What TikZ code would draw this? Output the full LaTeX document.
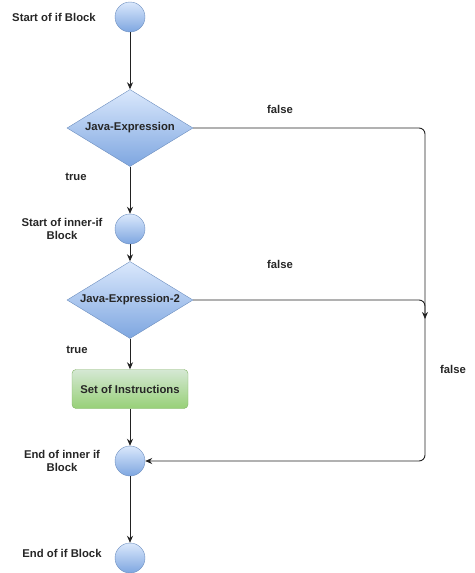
\documentclass[tikz,border=0pt]{standalone}
\usepackage{fontspec}
\setmainfont{Liberation Sans}
\usetikzlibrary{shapes.geometric,arrows.meta}
\definecolor{bluetop}{HTML}{DAE8FC}
\definecolor{bluebot}{HTML}{7EA6E0}
\definecolor{blueline}{HTML}{6C8EBF}
\definecolor{greentop}{HTML}{D5E8D4}
\definecolor{greenbot}{HTML}{97D077}
\definecolor{greenline}{HTML}{82B366}
\definecolor{lineclr}{HTML}{222222}
\tikzset{
  every node/.style={font=\fontsize{11.3}{13}\selectfont\bfseries, text=black!85},
  dot/.style={circle, draw=blueline, top color=bluetop, bottom color=bluebot, minimum size=30pt, inner sep=0pt},
  decide/.style={diamond, draw=blueline, top color=bluetop, bottom color=bluebot, aspect=1.64, minimum width=126pt, minimum height=77pt, inner sep=0pt},
  task/.style={rectangle, rounded corners=4pt, draw=greenline, top color=greentop, bottom color=greenbot, minimum width=116pt, minimum height=39pt, inner sep=0pt},
  flow/.style={draw=lineclr, line width=0.9pt, -{Stealth[length=7pt,width=6pt]}},
  lbl/.style={align=center, inner sep=0pt}
}
\begin{document}
\begin{tikzpicture}[x=1pt,y=1pt]
\useasboundingbox (0,0) rectangle (474,-573);
\node[dot] (s1) at (130,-17) {};
\node[decide] (d1) at (130,-128) {Java-Expression};
\node[dot] (s2) at (130,-229) {};
\node[decide] (d2) at (130,-300) {Java-Expression-2};
\node[task] (t) at (130,-389) {Set of Instructions};
\node[dot] (e1) at (130,-461) {};
\node[dot] (e2) at (130,-558) {};
\coordinate (r1) at (425,-128);
\coordinate (r2) at (425,-461);
\coordinate (m1) at (425,-300);
\coordinate (m2) at (425,-319);

\draw[flow] (s1) -- (d1);
\draw[flow] (d1) -- (s2);
\draw[flow] (s2) -- (d2);
\draw[flow] (d2) -- (t);
\draw[flow] (t) -- (e1);
\draw[flow] (e1) -- (e2);
\draw[flow, rounded corners=6pt] (d1.east) -- (r1) -- (r2) -- (e1.east);
\draw[flow, rounded corners=6pt] (d2.east) -- (m1) -- (m2);

\node[lbl] (l1) at (54,-17) {Start of if Block};
\node[lbl] (l2) at (62,-229) {Start of inner-if\\Block};
\node[lbl] (l3) at (62,-461) {End of inner if\\Block};
\node[lbl] (l4) at (62,-553) {End of if Block};
\node[lbl] (f1) at (280,-109) {false};
\node[lbl] (f2) at (280,-264) {false};
\node[lbl] (f3) at (453,-369) {false};
\node[lbl] (tr1) at (76,-177) {true};
\node[lbl] (tr2) at (77,-350) {true};
\end{tikzpicture}
\end{document}
